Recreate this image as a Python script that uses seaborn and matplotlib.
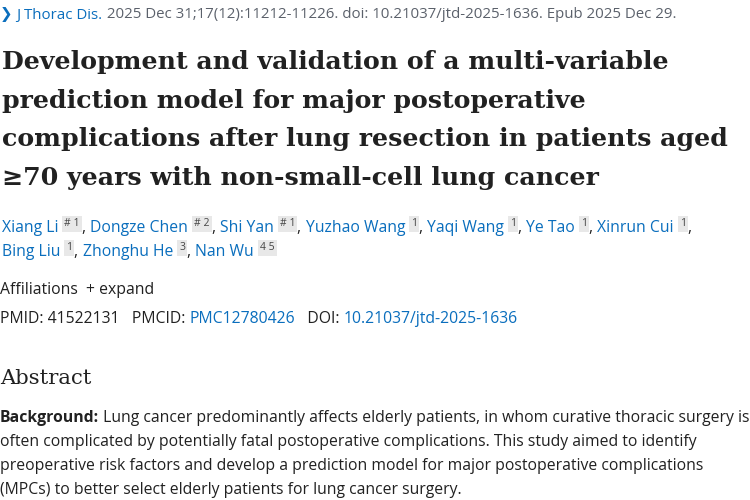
import matplotlib
matplotlib.use("Agg")
import matplotlib.pyplot as plt
import seaborn as sns

sns.set_theme(style="white")
plt.rcParams['font.family'] = ['Open Sans', 'DejaVu Sans']

W, H = 750, 500
BLUE = "#0a6ebd"
GRAY = "#5b616b"
DARK = "#212121"
SERIF = ["DejaVu Serif"]

citation = [("\u276F ", BLUE), ("J Thorac Dis.", BLUE),
            (" 2025 Dec 31;17(12):11212-11226. doi: 10.21037/jtd-2025-1636. Epub 2025 Dec 29.", GRAY)]
title_lines = ["Development and validation of a multi-variable",
               "prediction model for major postoperative",
               "complications after lung resection in patients aged",
               "\u226570 years with non-small-cell lung cancer"]
authors1 = [("Xiang Li", "# 1"), ("Dongze Chen", "# 2"), ("Shi Yan", "# 1"), ("Yuzhao Wang", "1"),
            ("Yaqi Wang", "1"), ("Ye Tao", "1"), ("Xinrun Cui", "1")]
authors2 = [("Bing Liu", "1"), ("Zhonghu He", "3"), ("Nan Wu", "4 5")]
abstract_lines = [
    [("Background:", DARK, "bold"), (" Lung cancer predominantly affects elderly patients, in whom curative thoracic surgery is", DARK, "normal")],
    [("often complicated by potentially fatal postoperative complications. This study aimed to identify", DARK, "normal")],
    [("preoperative risk factors and develop a prediction model for major postoperative complications", DARK, "normal")],
    [("(MPCs) to better select elderly patients for lung cancer surgery.", DARK, "normal")],
]

fig = plt.figure(figsize=(7.5, 5), dpi=100)
fig.patch.set_facecolor("white")
fig.canvas.draw()
R = fig.canvas.get_renderer()


def put(x, y, s, size, color, weight="normal", family=None, bbox=None):
    kw = dict(fontsize=size, color=color, fontweight=weight, va="center", ha="left")
    if family:
        kw["family"] = family
    if bbox:
        kw["bbox"] = bbox
    t = fig.text(x / W, 1 - y / H, s, **kw)
    return x + t.get_window_extent(R).width


def fit_size(s, target, weight, family, base=20):
    t = fig.text(0, 0, s, fontsize=base, fontweight=weight, family=family)
    w = t.get_window_extent(R).width
    t.remove()
    return base * target / w


BODY = 11.3
x = 0
for s, c in citation:
    x = put(x, 15, s, 10.8, c)

tsize = fit_size(title_lines[0], 668, "bold", SERIF)
for i, line in enumerate(title_lines):
    put(2, 62 + i * 38.5, line, tsize, DARK, "bold", SERIF)


def author_row(y, items, last):
    x = 2
    for j, (name, sup) in enumerate(items):
        x = put(x, y, name, BODY, BLUE)
        x = put(x + 6, y - 4, sup, 7.5, "#444444",
                bbox=dict(boxstyle="square,pad=0.2", fc="#e8e8e8", ec="none"))
        if not (last and j == len(items) - 1):
            x = put(x + 2, y, ", ", BODY, DARK)


author_row(228, authors1, False)
author_row(252, authors2, True)

x = put(0, 290, "Affiliations", BODY, DARK)
put(x + 8, 290, "+ expand", BODY, DARK)
x = put(0, 319, "PMID: 41522131   PMCID: ", BODY, DARK)
x = put(x, 319, "PMC12780426", BODY, BLUE)
x = put(x, 319, "   DOI: ", BODY, DARK)
put(x, 319, "10.21037/jtd-2025-1636", BODY, BLUE)

asize = fit_size("Abstract", 91, "normal", SERIF)
put(0, 378, "Abstract", asize, DARK, family=SERIF)

for i, line in enumerate(abstract_lines):
    x = 0
    for s, c, w in line:
        x = put(x, 418 + i * 24, s, BODY, c, w)

fig.savefig("out.png", dpi=100, facecolor="white")
